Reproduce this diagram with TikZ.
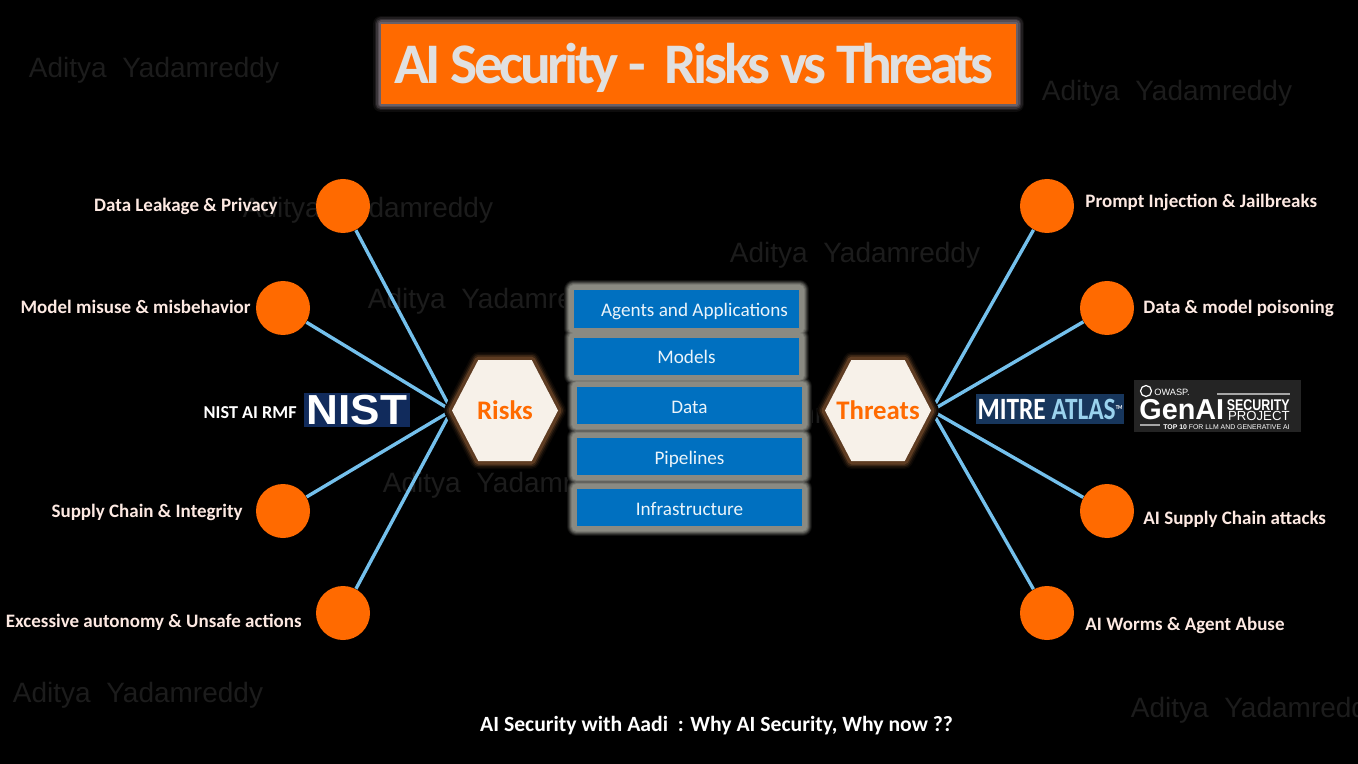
\documentclass[tikz,border=0pt]{standalone}
\usepackage{fontspec}
\setmainfont{Carlito}
\newfontfamily\markfont{Liberation Sans}
\newfontfamily\titlefont[LetterSpace=-6]{Carlito}
\usetikzlibrary{shapes.geometric,shapes.symbols,backgrounds}
\definecolor{dotorange}{HTML}{FF6A00}
\definecolor{boxblue}{HTML}{0070C0}
\definecolor{linkblue}{HTML}{74C0EC}
\definecolor{hexcream}{HTML}{F7F1E9}
\definecolor{labelpink}{HTML}{FDE9E2}
\definecolor{markgray}{HTML}{1C1C1C}
\definecolor{titlegray}{HTML}{E0E0E0}
\definecolor{nistblue}{HTML}{112B5C}
\definecolor{atlasblue}{HTML}{17365C}
\definecolor{atlaslight}{HTML}{9AD2EE}
\definecolor{owaspgray}{HTML}{242424}
\definecolor{titleglow}{HTML}{6A6068}
\definecolor{boxglow}{HTML}{8A8A82}
\definecolor{hexglow}{HTML}{5E3C22}
\tikzset{
  dot/.style={circle,fill=dotorange,minimum size=27pt,inner sep=0pt},
  linklabel/.style={font=\bfseries\fontsize{9.5}{11}\selectfont,text=labelpink,inner sep=0pt,text height=6.1pt,text depth=0pt},
  leftlabel/.style={linklabel,anchor=east},
  rightlabel/.style={linklabel,anchor=west},
  link/.style={draw=linkblue,line width=1.7pt},
  watermark/.style={font=\markfont\fontsize{14}{16}\selectfont,text=markgray,inner sep=0pt},
  glowbox/.style={rectangle,fill=boxblue,text=white!92!boxblue,inner sep=0pt,minimum width=112.5pt,minimum height=18.7pt,
    text height=7.5pt,text depth=0pt,font=\fontsize{9.6}{12}\selectfont},
  hexnode/.style={signal,signal to=east and west,signal pointer angle=125,fill=hexcream,
    minimum width=53pt,minimum height=50.5pt,inner sep=0pt,
    label={[text=dotorange,font=\bfseries\fontsize{13.4}{15}\selectfont,inner sep=0pt]center:#1},
    preaction={draw=hexglow!12!black,line width=8pt,line join=round},
    preaction={draw=hexglow!30!black,line width=6.5pt,line join=round},
    preaction={draw=hexglow!60!black,line width=5pt,line join=round},
    preaction={draw=hexglow,line width=3.5pt,line join=round}},
  badgetext/.style={text=white,inner sep=0pt},
}
\begin{document}
\begin{tikzpicture}[x=0.5pt,y=-0.5pt]
  \useasboundingbox (0,0) rectangle (1358,764);

  % title
  \node[rectangle,fill=dotorange,text=titlegray,minimum width=317.5pt,minimum height=40pt,inner sep=0pt,
    text height=20pt,text depth=0pt,font=\titlefont\bfseries\fontsize{28.7}{30}\selectfont,
    preaction={draw=titleglow!12!black,line width=8pt,line join=round},
    preaction={draw=titleglow!30!black,line width=6.5pt,line join=round},
    preaction={draw=titleglow!55!black,line width=5pt,line join=round},
    preaction={draw=titleglow!80!black,line width=3.5pt,line join=round},
    preaction={draw=titleglow,line width=2pt,line join=round}] (title) at (698.5,64) {\hspace*{-4.5pt}AI Security -\ \ Risks vs Threats};

  % hubs and stack
  \node[hexnode=Risks] (risks) at (505,410.5) {};
  \node[hexnode=Threats] (threats) at (878,410.5) {};

  \node[glowbox] (agents) at (686.5,309) {\hspace*{8pt}Agents and Applications};
  \node[glowbox] (models) at (686.5,356.5) {Models};
  \node[glowbox] (data) at (689.5,405.5) {Data};
  \node[glowbox] (pipelines) at (689.5,456.5) {Pipelines};
  \node[glowbox] (infra) at (689.5,507.5) {Infrastructure};

  % risks side
  \node[dot] (r1) at (343,206) {};
  \node[dot] (r2) at (283,308) {};
  \node[dot] (r3) at (283,511) {};
  \node[dot] (r4) at (343,613) {};
  \node[leftlabel] (r1text) at (278,205) {Data Leakage \& Privacy};
  \node[leftlabel] (r2text) at (251,307) {Model misuse \& misbehavior};
  \node[leftlabel] (r3text) at (243,511) {Supply Chain \& Integrity};
  \node[leftlabel] (r4text) at (302,621) {Excessive autonomy \& Unsafe actions};
  \node[leftlabel,text=white,font=\bfseries\fontsize{9.1}{11}\selectfont] (nisttext) at (297,412) {NIST AI RMF};
  \node[rectangle,fill=nistblue,text=white,minimum width=53pt,minimum height=17pt,inner sep=0pt,
    font=\markfont\bfseries\fontsize{21}{22}\selectfont] (nist) at (357,410) {\scalebox{1.05}[1]{NIST}};

  % threats side
  \node[dot] (t1) at (1047,206) {};
  \node[dot] (t2) at (1107,308) {};
  \node[dot] (t3) at (1107,511) {};
  \node[dot] (t4) at (1047,613) {};
  \node[rightlabel] (t1text) at (1085,201) {Prompt Injection \& Jailbreaks};
  \node[rightlabel] (t2text) at (1143,307) {Data \& model poisoning};
  \node[rightlabel] (t3text) at (1143,518) {AI Supply Chain attacks};
  \node[rightlabel] (t4text) at (1085,624) {AI Worms \& Agent Abuse};
  \node[rectangle,fill=atlasblue,minimum width=74pt,minimum height=15pt,inner sep=0pt,
    font=\bfseries\fontsize{15.5}{16}\selectfont] (atlas) at (1050,409) {\scalebox{0.82}[1]{\textcolor{white}{MITRE} \textcolor{atlaslight}{ATLAS}\textcolor{white}{\raisebox{5pt}{\fontsize{3}{3}\selectfont TM}}}};

  % owasp badge
  \node[rectangle,fill=owaspgray,minimum width=83.5pt,minimum height=26pt,inner sep=0pt] (owasp) at (1217.5,406) {};
  \node[circle,draw=white,line width=0.6pt,minimum size=5.5pt,inner sep=0pt] (owaspicon) at (1146,391) {};
  \node[badgetext,font=\markfont\fontsize{4.6}{5}\selectfont,anchor=west] (owaspname) at (1154,392) {OWASP.};
  \node[badgetext,font=\markfont\bfseries\fontsize{14.4}{16}\selectfont,anchor=west] (genai) at (1139,410) {GenAI};
  \node[badgetext,font=\markfont\bfseries\fontsize{6.2}{7}\selectfont,anchor=east] (security) at (1290,405) {\scalebox{1}[1.25]{SECURITY}};
  \node[badgetext,font=\markfont\fontsize{6.6}{7}\selectfont,anchor=east] (project) at (1290,416) {PROJECT};
  \node[badgetext,font=\markfont\fontsize{3.45}{4}\selectfont,anchor=east] (top) at (1290,427) {\textbf{TOP 10} FOR LLM AND GENERATIVE AI};
  \coordinate (ruleA) at (1217,394);
  \coordinate (ruleB) at (1290,394);
  \coordinate (ruleC) at (1140,425);
  \coordinate (ruleD) at (1160,425);
  \draw[gray!70,line width=0.8pt] (ruleA) -- (ruleB);
  \draw[gray!70,line width=0.8pt] (ruleC) -- (ruleD);

  \node[text=white,inner sep=0pt,text height=7pt,text depth=0pt,font=\bfseries\fontsize{10.85}{13}\selectfont] (footer) at (716.5,724) {AI Security with Aadi\ \ : Why AI Security, Why now ??};

  \begin{scope}[on background layer]
    \fill[black] (0,0) rectangle (1358,764);
    \node[watermark] (mark1) at (154,70) {Aditya\ \ Yadamreddy};
    \node[watermark] (mark2) at (1167,93) {Aditya\ \ Yadamreddy};
    \node[watermark] (mark3) at (368,210) {Aditya\ \ Yadamreddy};
    \node[watermark] (mark4) at (855,255) {Aditya\ \ Yadamreddy};
    \node[watermark] (mark5) at (493,301) {Aditya\ \ Yadamreddy};
    \node[watermark] (mark6) at (760,416) {Aditya\ \ Yadamreddy};
    \node[watermark] (mark7) at (508,485) {Aditya\ \ Yadamreddy};
    \node[watermark] (mark8) at (138,695) {Aditya\ \ Yadamreddy};
    \node[watermark] (mark9) at (1256,710) {Aditya\ \ Yadamreddy};

    \foreach \n in {r1,r2,r3,r4}
      \draw[link] (\n) -- (risks.west);
    \foreach \n in {t1,t2,t3,t4}
      \draw[link] (\n) -- (threats.east);

    % glow of the stack, outer rings first
    \foreach \w/\c in {9.5/12,8.5/30,7.5/50,6.5/72,5.5/90,4.5/100}
      \foreach \b in {agents,models,data,pipelines,infra}
        \draw[boxglow!\c!black,line width=\w pt,line join=round] (\b.north west) rectangle (\b.south east);
  \end{scope}
\end{tikzpicture}
\end{document}
